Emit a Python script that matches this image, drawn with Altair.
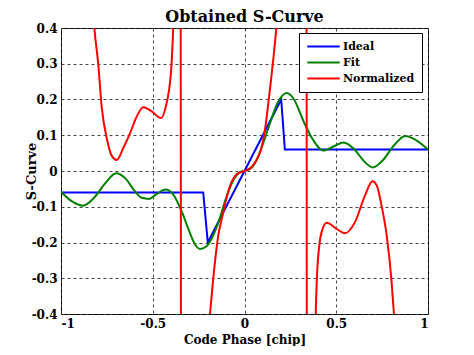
import altair as alt
import pandas as pd

# ---- data ----
ideal_x = [-1.0, -0.225, -0.2, 0.0, 0.2, 0.22, 1.0]
ideal_y = [-0.06, -0.06, -0.2, 0.0, 0.2, 0.06, 0.06]

fit_x = [-1.0, -0.94, -0.88, -0.82, -0.76, -0.70, -0.65, -0.60, -0.56, -0.52,
         -0.48, -0.43, -0.39, -0.34, -0.30, -0.27, -0.243, -0.21, -0.18, -0.14,
         -0.10, -0.07, -0.04, -0.02, 0.0, 0.02, 0.04, 0.07, 0.10, 0.14,
         0.18, 0.23, 0.27, 0.32, 0.37, 0.43, 0.49, 0.54, 0.60, 0.65,
         0.70, 0.75, 0.82, 0.875, 0.93, 1.0]
fit_y = [-0.058, -0.085, -0.097, -0.075, -0.035, -0.006, -0.02, -0.055, -0.075, -0.078,
         -0.065, -0.052, -0.065, -0.116, -0.17, -0.205, -0.218, -0.212, -0.19, -0.14,
         -0.075, -0.035, -0.01, -0.002, 0.0, 0.003, 0.01, 0.035, 0.075, 0.135,
         0.19, 0.218, 0.2, 0.141, 0.09, 0.057, 0.07, 0.08, 0.06, 0.028,
         0.01, 0.028, 0.075, 0.098, 0.088, 0.06]

norm_x = [-1.0, -0.9, -0.85, -0.818, -0.797, -0.778, -0.75, -0.724, -0.696, -0.66,
          -0.62, -0.597, -0.551, -0.506, -0.455, -0.43, -0.40, -0.388, -0.37, -0.352,
          -0.342, -0.30, -0.22, -0.188, -0.16, -0.143, -0.12, -0.10, -0.07, -0.04,
          0.0, 0.04, 0.07, 0.09, 0.11, 0.13, 0.15, 0.175, 0.22, 0.30,
          0.335, 0.343, 0.37, 0.388, 0.397, 0.42, 0.448, 0.502, 0.548, 0.602,
          0.657, 0.697, 0.72, 0.747, 0.775, 0.80, 0.815, 0.9, 1.0]
norm_y = [2.0, 1.2, 0.7, 0.4, 0.299, 0.178, 0.09, 0.043, 0.031, 0.065,
          0.11, 0.141, 0.178, 0.167, 0.148, 0.178, 0.28, 0.41, 0.8, 2.5,
          -2.5, -1.2, -0.6, -0.4, -0.25, -0.181, -0.125, -0.08, -0.03, -0.008,
          0.0, 0.012, 0.035, 0.06, 0.11, 0.19, 0.28, 0.41, 0.8, 1.5,
          2.5, -2.5, -0.9, -0.4, -0.274, -0.171, -0.145, -0.162, -0.174, -0.143,
          -0.068, -0.029, -0.04, -0.097, -0.181, -0.3, -0.405, -1.0, -2.0]

series = ["Ideal", "Fit", "Normalized"]
colors = ["#0000FF", "#008000", "#FF0000"]
x_ticks = [-1, -0.5, 0, 0.5, 1]
y_ticks = [-0.4, -0.3, -0.2, -0.1, 0, 0.1, 0.2, 0.3, 0.4]

rows = []
for name, xs, ys in zip(series, [ideal_x, fit_x, norm_x], [ideal_y, fit_y, norm_y]):
    for i, (a, b) in enumerate(zip(xs, ys)):
        rows.append({"series": name, "x": a, "y": b, "idx": i})
df = pd.DataFrame(rows)

FONT = "DejaVu Serif"

x_enc = alt.X("x:Q",
              scale=alt.Scale(domain=[-1, 1], nice=False, zero=False),
              axis=alt.Axis(values=x_ticks, title="Code Phase [chip]",
                            labelExpr="'' + datum.value", ticks=False, domain=False,
                            labelPadding=4, titleY=29, titleBaseline="alphabetic",
                            titleFontSize=12))
y_enc = alt.Y("y:Q",
              scale=alt.Scale(domain=[-0.4, 0.4], nice=False, zero=False),
              axis=alt.Axis(values=y_ticks, title="S-Curve",
                            labelExpr="'' + datum.value", ticks=False, domain=False,
                            labelPadding=4, titleX=-30, titleY=143,
                            titleBaseline="middle", titleAlign="center"))
c_enc = alt.Color("series:N",
                  scale=alt.Scale(domain=series, range=colors),
                  sort=series,
                  legend=alt.Legend(title=None, orient="none", legendX=238, legendY=5,
                                    fillColor="white", strokeColor="black",
                                    padding=7, symbolType="stroke",
                                    symbolStrokeWidth=2, symbolSize=1050,
                                    labelFont=FONT, labelFontWeight="bold",
                                    labelFontSize=11, labelColor="black",
                                    labelOffset=2, rowPadding=3, clipHeight=13))

base = alt.Chart(df)
ideal_layer = base.transform_filter(alt.datum.series == "Ideal").mark_line(
    clip=True, strokeWidth=2).encode(x=x_enc, y=y_enc, color=c_enc, order=alt.Order("idx:Q"))
curve_layer = base.transform_filter(alt.datum.series != "Ideal").mark_line(
    clip=True, strokeWidth=2, interpolate="monotone").encode(
    x=x_enc, y=y_enc, color=c_enc, order=alt.Order("idx:Q"))

chart = alt.layer(ideal_layer, curve_layer).properties(
    width=367,
    height=286,
    padding={"left": 53, "top": 20, "right": 38, "bottom": 32},
    autosize=alt.AutoSizeParams(type="none"),
    title=alt.TitleParams("Obtained S-Curve", font=FONT, fontSize=16,
                          fontWeight="bold", color="black", anchor="middle",
                          offset=-3),
).configure_view(
    stroke="black", strokeWidth=1
).configure_axis(
    labelFont=FONT, labelFontWeight="bold", labelFontSize=12, labelColor="black",
    titleFont=FONT, titleFontWeight="bold", titleFontSize=13, titleColor="black",
    gridColor="#333333", gridDash=[3, 3], gridWidth=1, gridOpacity=0.9,
)

chart.save("out.html", embed_options={"renderer": "svg", "actions": False})
